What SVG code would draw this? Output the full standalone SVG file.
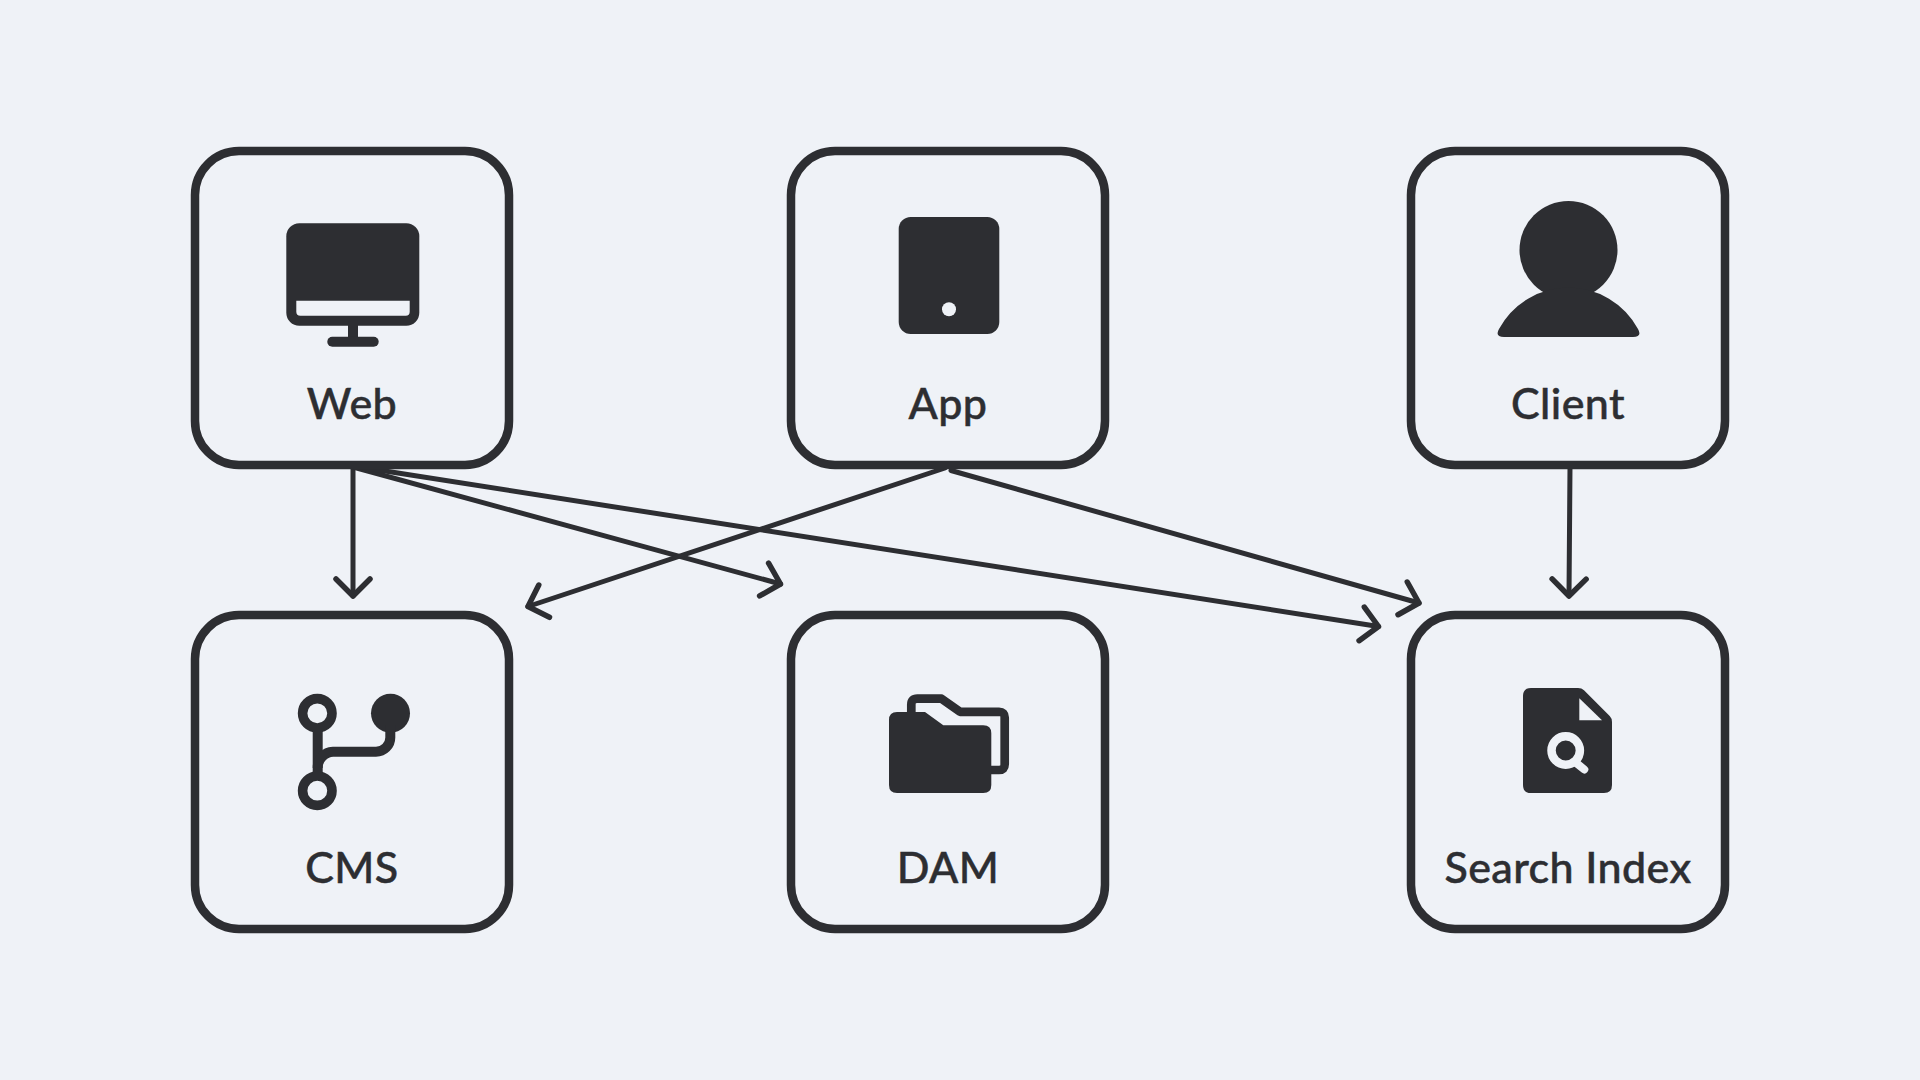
<svg xmlns="http://www.w3.org/2000/svg" width="1920" height="1080" viewBox="0 0 1920 1080">
<style>
.box{fill:none;stroke:#2d2e32;stroke-width:8.500}
.ink{fill:#2d2e32}
.bg{fill:#eff2f7}
.ln{fill:none;stroke:#2d2e32;stroke-linecap:round;stroke-linejoin:round}
.label{font-family:"Lato","Noto Sans",sans-serif;font-size:43px;font-weight:500;letter-spacing:.4px;fill:#2d2e32;stroke:#2d2e32;stroke-width:.5;text-anchor:middle}
.edge{fill:none;stroke:#2d2e32;stroke-width:5;stroke-linecap:round;marker-end:url(#arrow)}
</style>
<defs>
<marker id="arrow" markerUnits="userSpaceOnUse" markerWidth="40" markerHeight="50" refX="30" refY="25" orient="auto" overflow="visible">
<path d="M13,8 L30,25 L13,42" fill="none" stroke="#2d2e32" stroke-width="5.500" stroke-linecap="round" stroke-linejoin="round"/>
</marker>
</defs>
<rect width="1920" height="1080" class="bg"/>
<g id="connectors">
<line class="edge" x1="353" y1="467" x2="353" y2="596"/>
<line class="edge" x1="353" y1="467" x2="780.500" y2="584"/>
<line class="edge" x1="353" y1="466" x2="1378.500" y2="626.500"/>
<line class="edge" x1="945" y1="468" x2="528" y2="606.500"/>
<line class="edge" x1="951" y1="470.500" x2="1419" y2="603"/>
<line class="edge" x1="1570" y1="467" x2="1569" y2="596"/>
</g>
<g id="web">
<rect class="box" x="195" y="151" width="314" height="314" rx="44"/>
<rect class="ink" x="286.300" y="223.300" width="133" height="102.400" rx="13"/>
<path class="bg" d="M296.300 300.700H409.700V311.700a4 4 0 0 1-4 4H300.300a4 4 0 0 1-4-4Z"/>
<rect class="ink" x="348" y="324" width="10" height="15"/>
<rect class="ink" x="327.300" y="336.700" width="51.400" height="10" rx="5"/>
<text class="label" x="352" y="419">Web</text>
</g>
<g id="app">
<rect class="box" x="791" y="151" width="314" height="314" rx="44"/>
<rect class="ink" x="898.700" y="217" width="100.600" height="117" rx="12"/>
<circle class="bg" cx="949" cy="309.300" r="7"/>
<text class="label" x="948" y="419">App</text>
</g>
<g id="client">
<rect class="box" x="1411" y="151" width="314" height="314" rx="44"/>
<circle class="ink" cx="1568.500" cy="250" r="49"/>
<path class="ink" d="M1504 337Q1494.500 337 1499 329A79 79 0 0 1 1638 329Q1642.500 337 1633 337Z"/>
<text class="label" x="1568" y="419">Client</text>
</g>
<g id="cms">
<rect class="box" x="195" y="615" width="314" height="314" rx="44"/>
<circle class="ln" cx="317.300" cy="713.300" r="14.700" stroke-width="9.600"/>
<circle class="ln" cx="317.300" cy="790.700" r="14.700" stroke-width="9.600"/>
<circle class="ink" cx="390.500" cy="713.300" r="19.500"/>
<path d="M317.700 730V775" fill="none" stroke="#2d2e32" stroke-width="10"/>
<path d="M317.700 768A16 16 0 0 1 333 751.700H376A14.300 14.300 0 0 0 390.300 737.400V725" fill="none" stroke="#2d2e32" stroke-width="10"/>
<text class="label" x="352" y="883">CMS</text>
</g>
<g id="dam">
<rect class="box" x="791" y="615" width="314" height="314" rx="44"/>
<path class="ln" d="M911.300 716V704.700Q911.300 698.700 917.300 698.700H941.500L960 711.800H999Q1004.700 711.800 1004.700 717.500V764.300Q1004.700 770 999 770H988" stroke-width="8.700"/>
<path class="ink" d="M897 712H925L943.300 725.300H983.300Q991.300 725.300 991.300 733.300V785Q991.300 793 983.300 793H897Q889 793 889 785V720Q889 712 897 712Z"/>
<text class="label" x="948" y="883">DAM</text>
</g>
<g id="search-index">
<rect class="box" x="1411" y="615" width="314" height="314" rx="44"/>
<path class="ink" d="M1531 688H1578Q1581.700 688 1584 690.300L1609.700 716Q1612 718.300 1612 722V785Q1612 793 1604 793H1531Q1523 793 1523 785V696Q1523 688 1531 688Z"/>
<path class="bg" d="M1579.300 698.300V720.300H1602Z"/>
<circle cx="1565.700" cy="750.500" r="14.200" fill="none" stroke="#eff2f7" stroke-width="8.500"/>
<path d="M1576.700 763.300L1584.300 769.500" fill="none" stroke="#eff2f7" stroke-width="8" stroke-linecap="round"/>
<text class="label" x="1568" y="883">Search Index</text>
</g>
</svg>
